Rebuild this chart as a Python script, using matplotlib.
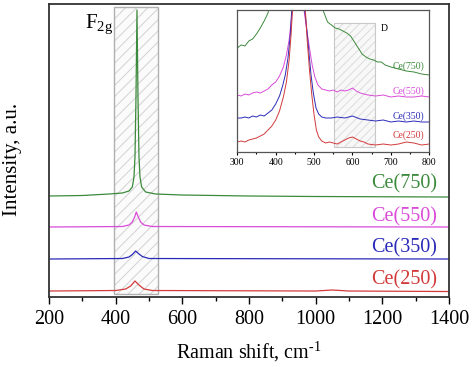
import matplotlib
matplotlib.use("Agg")
import matplotlib.pyplot as plt
from matplotlib.patches import Rectangle
from matplotlib.ticker import MultipleLocator

plt.rcParams['font.family'] = ['Liberation Serif', 'DejaVu Serif']
plt.rcParams['mathtext.fontset'] = 'custom'
plt.rcParams['mathtext.rm'] = 'Liberation Serif'
plt.rcParams['mathtext.it'] = 'Liberation Serif:italic'
plt.rcParams['hatch.linewidth'] = 0.7

# ---- main panel: Raman spectra (offset, arb. units) ----
x750 = [200, 300, 380, 420, 440, 450, 455, 458, 461, 464, 467, 470, 473, 478, 490, 520, 600, 800, 1000, 1400]
y750 = [101, 101.5, 103, 104, 106, 110, 120, 140, 200, 287, 200, 140, 120, 110, 105, 103, 102, 101, 100.5, 100]

x550 = [200, 420, 440, 450, 457, 462, 468, 475, 485, 510, 1400]
y550 = [70, 70.5, 72, 75, 80, 85, 80, 75, 72, 70.5, 70]

x350 = [200, 420, 440, 450, 460, 470, 480, 500, 1400]
y350 = [38, 38.5, 40, 42.5, 46, 43, 40.5, 38.5, 38]

x250 = [200, 400, 430, 445, 458, 470, 485, 510, 1000, 1050, 1100, 1400]
y250 = [6, 6.5, 8, 11, 16, 12, 8, 6.5, 6, 7, 6, 5.5]

# ---- inset: zoom 300-800 cm-1 ----
ix750 = [300, 310, 320, 330, 340, 350, 360, 370, 380, 386, None,
         517, 525, 535, 545, 555, 565, 575, 585, 595, 605, 615, 625, 635, 645,
         655, 665, 675, 685, 700, 720, 740, 760, 780, 800]
iy750 = [104, 107, 106, 111, 113, 118, 124, 131, 139, 150, None,
         150, 140, 130, 127, 124, 123, 121, 119, 116, 110, 104, 98, 95, 93,
         92, 90, 90, 87, 85, 83, 81, 80, 78, 77]

ix550 = [300, 310, 320, 330, 340, 350, 360, 370, 380, 390, 400, 410, 420, 428, 435, 440, 446,
         471, 480, 488, 495, 502, 510, 520, 530, 540, 550, 560, 570, 580, 590, 600, 610,
         620, 630, 640, 660, 680, 700, 720, 740, 760, 780, 800]
iy550 = [57, 56, 58, 57, 59, 60, 59, 61, 63, 67, 70, 76, 85, 97, 112, 130, 150,
         150, 124, 104, 87, 75, 67, 63, 62, 61, 62, 60, 62, 61, 62, 64, 61,
         59, 58, 57, 56, 57, 55, 56, 55, 55, 56, 55]

ix350 = [300, 310, 320, 330, 340, 350, 360, 370, 380, 390, 400, 410, 418, 425, 432, 438, 443,
         473, 480, 486, 492, 498, 505, 512, 520, 530, 545, 560, 580, 600, 620, 640, 660,
         680, 700, 720, 740, 760, 780, 800]
iy350 = [34, 34, 35, 34, 36, 35, 37, 36, 39, 42, 48, 56, 66, 77, 94, 117, 150,
         150, 127, 102, 77, 59, 44, 38, 35, 34, 34, 35, 34, 36, 33, 32, 31,
         32, 30, 31, 30, 31, 30, 30]

ix250 = [300, 310, 320, 330, 340, 350, 360, 370, 380, 390, 400, 410, 420, 428, 435, 440, 445,
         476, 482, 488, 494, 500, 506, 512, 520, 530, 540, 550, 560, 570, 580, 590, 600,
         610, 620, 630, 640, 660, 680, 700, 720, 740, 760, 780, 800]
iy250 = [10, 11, 10, 12, 13, 14, 16, 18, 22, 26, 32, 41, 55, 70, 92, 117, 150,
         150, 112, 82, 57, 37, 22, 15, 11, 9, 10, 9, 8, 10, 12, 14, 15,
         13, 11, 10, 8, 7, 8, 7, 8, 10, 9, 7, 8]

names = ['Ce(750)', 'Ce(550)', 'Ce(350)', 'Ce(250)']
colors = ['#3c8a3c', '#d94bd9', '#2a2ab8', '#d23a3a']
label_y = [113, 80, 49, 17]
inset_label_y = [86, 61, 36, 17]


def gaps(xs, ys):
    # None marks where the curve leaves the inset frame
    xo = [float('nan') if v is None else v for v in xs]
    yo = [float('nan') if v is None else v for v in ys]
    return xo, yo


fig = plt.figure(figsize=(4.74, 3.67), dpi=100)
ax = fig.add_axes([0.1034, 0.1907, 0.8436, 0.7984])

ax.add_patch(Rectangle((395, 3), 132, 287, facecolor='#fbfbfb', edgecolor='#d2d2d2',
                       hatch='///', lw=0, zorder=0))
ax.add_patch(Rectangle((395, 3), 132, 287, fill=False, edgecolor='#b0b0b0', lw=1.0, zorder=1))

main = [(x750, y750), (x550, y550), (x350, y350), (x250, y250)]
for (xs, ys), c, n, ly in zip(main, colors, names, label_y):
    ax.plot(xs, ys, color=c, lw=0.9, zorder=2)
    ax.text(1364, ly, n, color=c, fontsize=14.5, ha='right', va='center')

ax.text(309, 269, r'$\mathrm{F_{2g}}$', fontsize=15, ha='left', va='baseline')

ax.set_xlim(200, 1400)
ax.set_ylim(0, 293)
ax.xaxis.set_major_locator(MultipleLocator(200))
ax.xaxis.set_minor_locator(MultipleLocator(100))
ax.tick_params(axis='x', which='major', direction='out', length=5, width=1,
               labelsize=14.5, top=False, pad=4.5)
ax.tick_params(axis='x', which='minor', direction='out', length=3, width=1, top=False)
ax.set_yticks([])
for s in ax.spines.values():
    s.set_color('#333333')
    s.set_linewidth(1.3)

fig.text(249 / 474, 1 - 352 / 367, r'Raman shift, cm$^{\text{-1}}$', fontsize=14.5,
         ha='center', va='center')
fig.text(13 / 474, 1 - 159 / 367, 'Intensity, a.u.', fontsize=15, rotation=90,
         ha='center', va='center')

# inset
ins = fig.add_axes([0.5006, 0.5858, 0.4051, 0.387])
ins.add_patch(Rectangle((553, 5), 106, 124, facecolor='#f8f8f8', edgecolor='#dcdcdc',
                        hatch='////', lw=0, zorder=0))
ins.add_patch(Rectangle((553, 5), 106, 124, fill=False, edgecolor='#c8c8c8', lw=0.8, zorder=1))

inset = [(ix750, iy750), (ix550, iy550), (ix350, iy350), (ix250, iy250)]
for (xs, ys), c, n, ly in zip(inset, colors, names, inset_label_y):
    xo, yo = gaps(xs, ys)
    ins.plot(xo, yo, color=c, lw=0.7, zorder=2)
    ins.text(786, ly, n, color=c, fontsize=7, ha='right', va='center')
ins.text(674, 123, 'D', fontsize=7, ha='left', va='center')

ins.set_xlim(300, 800)
ins.set_ylim(0, 142)
ins.xaxis.set_major_locator(MultipleLocator(100))
ins.xaxis.set_minor_locator(MultipleLocator(50))
ins.tick_params(axis='x', which='major', direction='out', length=2.5, width=0.8,
                labelsize=7, pad=2)
ins.tick_params(axis='x', which='minor', direction='out', length=1.5, width=0.8)
ins.set_yticks([])
for s in ins.spines.values():
    s.set_color('#555555')
    s.set_linewidth(0.9)

fig.savefig('out.png', dpi=100)
